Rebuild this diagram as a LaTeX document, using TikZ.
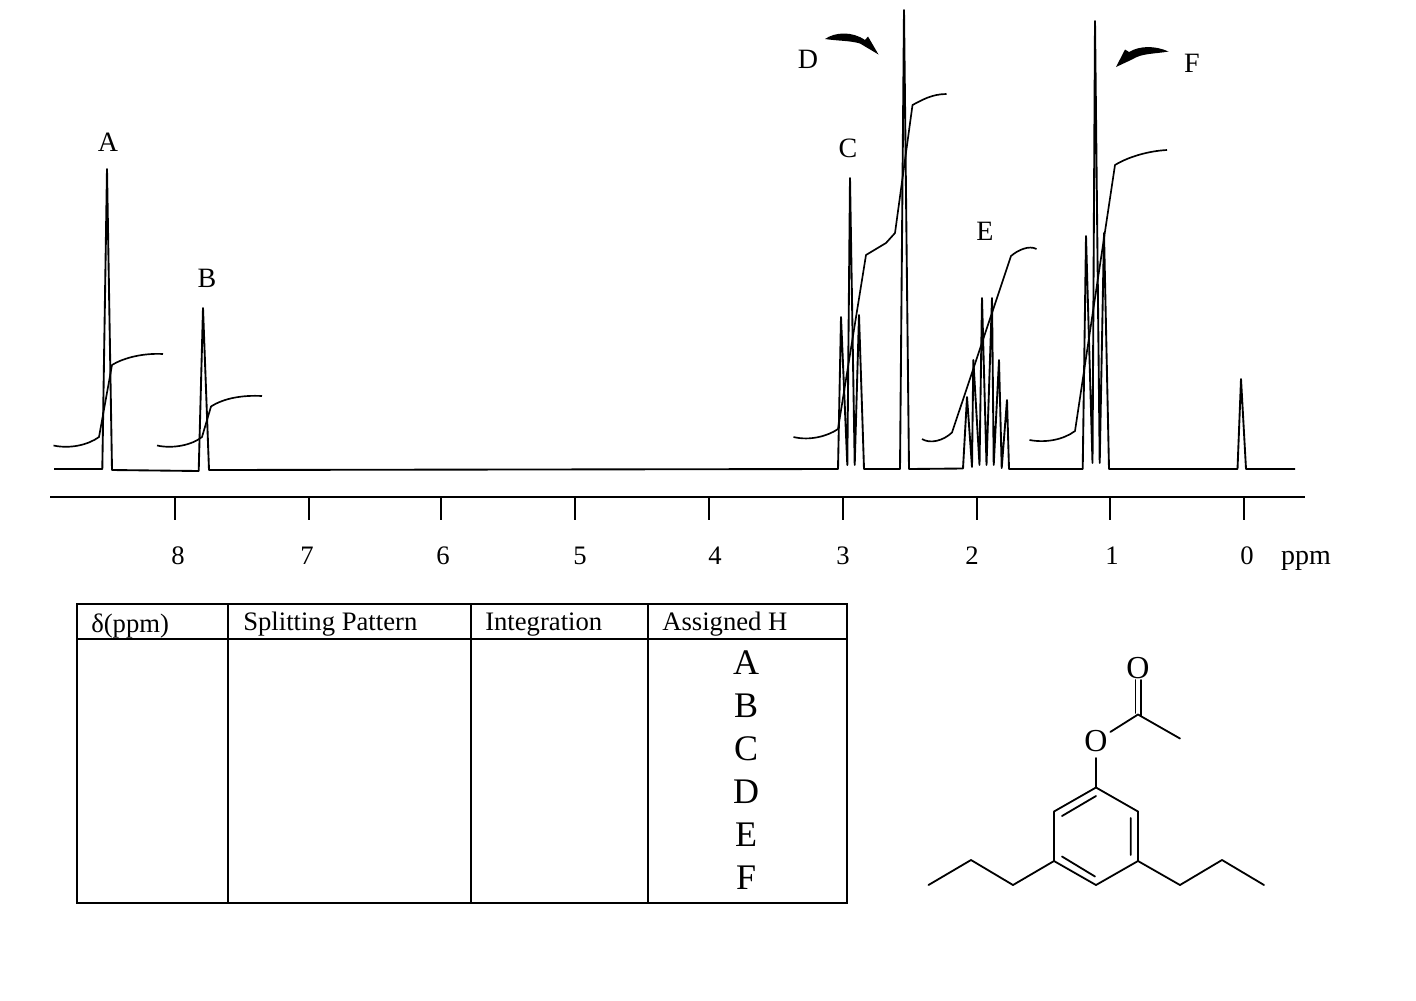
\documentclass[tikz,border=0pt]{standalone}
\usepackage{fontspec}
\setmainfont{Liberation Serif}
\tikzset{
  spec/.style={line width=1.4pt,line join=round,line cap=butt},
  integ/.style={line width=1.25pt,line join=round},
  axisline/.style={line width=1.3pt},
  grid line/.style={line width=1.5pt},
  bond/.style={line width=1.35pt,line cap=round,line join=round},
  peaklabel/.style={font=\fontsize{21}{24}\selectfont,inner sep=0pt},
  ticklabel/.style={font=\fontsize{20}{24}\selectfont,inner sep=0pt},
  ppmlabel/.style={font=\fontsize{21}{24}\selectfont,inner sep=0pt,anchor=base},
  headlabel/.style={font=\fontsize{20}{24}\selectfont,inner sep=0pt,anchor=base west},
  rowlabel/.style={font=\fontsize{27}{30}\selectfont,inner sep=0pt},
  atom/.style={font=\fontsize{24}{26}\selectfont,inner sep=0.5pt,circle},
}
\begin{document}
\begin{tikzpicture}[x=0.75pt,y=-0.75pt]
\useasboundingbox (0,0) rectangle (1416,1000);
\fill[white] (0,0) rectangle (1416,1000);
% spectrum
\draw[spec] (54,469) -- (102.3,469) -- (107,169) -- (112,470) -- (198.7,471) -- (203,308) -- (209,470)
  -- (838,469) -- (841,317) -- (847.3,465) -- (850,178) -- (854.7,465) -- (859,315) -- (864,469)
  -- (900,469) -- (904,10) -- (909,469) -- (963,468.5) -- (967,397) -- (972,467) -- (973.3,360)
  -- (979.5,465) -- (982,298) -- (986.5,465) -- (992,298) -- (993.7,465) -- (999,360) -- (1001.7,468)
  -- (1007,400) -- (1009,469) -- (1082.7,469) -- (1086,236) -- (1092.5,463) -- (1095,21) -- (1099.7,463)
  -- (1104,233) -- (1109,469) -- (1237.5,469) -- (1241,379) -- (1246,469) -- (1295,469);
% integrals
\draw[integ] (53.5,445.5) .. controls (70,449) and (88,445) .. (99,437) -- (112,365)
  .. controls (125,357) and (145,353) .. (163,354);
\draw[integ] (157,445.5) .. controls (173,449) and (192,445) .. (202,437) -- (211,406.5)
  .. controls (224,398) and (243,395) .. (262,396);
\draw[integ] (793.5,437) .. controls (810,441) and (828,436) .. (838,429) -- (866,255) -- (886,243) -- (895,233)
  -- (912.5,105) .. controls (922,100) and (932,94) .. (946.5,94);
\draw[integ] (922,439) .. controls (930,444) and (943,441) .. (952,432.5) -- (1011,256)
  .. controls (1018,250) and (1029,245) .. (1036.5,249);
\draw[integ] (1029.5,440) .. controls (1045,443) and (1063,440) .. (1075,431) -- (1115,165)
  .. controls (1128,157) and (1148,151) .. (1167,150);
% curved arrows
\fill (825,39) .. controls (835,32) and (852,31) .. (865,40) -- (868,36.5) -- (878.5,54.5) -- (860,43.5)
  .. controls (850,40.5) and (838,41) .. (825,39) -- cycle;
\fill (1168.5,51.5) .. controls (1155,45.5) and (1140,45.5) .. (1129,52) -- (1125,49.5) -- (1116,67) -- (1132,59.5)
  .. controls (1142,53) and (1155,54) .. (1168.5,51.5) -- cycle;
% peak labels
\node[peaklabel] (la) at (108,142) {A};
\node[peaklabel] (lb) at (207,278) {B};
\node[peaklabel] (lc) at (848,148) {C};
\node[peaklabel] (ld) at (808,59) {D};
\node[peaklabel] (le) at (985,231) {E};
\node[peaklabel] (lf) at (1192,63) {F};
% axis
\draw[axisline] (50,497) -- (1305,497);
\foreach \xt in {175,309,441,575,709,843,977,1110,1244}
  \draw[axisline] (\xt,497) -- (\xt,520);
\node[ticklabel] (t8) at (178,556) {8};
\node[ticklabel] (t7) at (307,556) {7};
\node[ticklabel] (t6) at (443,556) {6};
\node[ticklabel] (t5) at (580,556) {5};
\node[ticklabel] (t4) at (715,556) {4};
\node[ticklabel] (t3) at (843,556) {3};
\node[ticklabel] (t2) at (972,556) {2};
\node[ticklabel] (t1) at (1112,556) {1};
\node[ticklabel] (t0) at (1247,556) {0};
\node[ppmlabel] (tp) at (1306,564) {ppm};
% table
\draw[grid line] (77,604) rectangle (847,903);
\draw[grid line] (77,639) -- (847,639);
\draw[grid line] (228,604) -- (228,903);
\draw[grid line] (471,604) -- (471,903);
\draw[grid line] (648,604) -- (648,903);
\node[headlabel] (h1) at (91,632) {δ(ppm)};
\node[headlabel] (h2) at (243,630) {Splitting Pattern};
\node[headlabel] (h3) at (485,630) {Integration};
\node[headlabel] (h4) at (662,630) {Assigned H};
\node[rowlabel] (ra) at (746,663) {A};
\node[rowlabel] (rb) at (746,706) {B};
\node[rowlabel] (rc) at (746,749) {C};
\node[rowlabel] (rd) at (746,792) {D};
\node[rowlabel] (re) at (746,835) {E};
\node[rowlabel] (rf) at (746,878) {F};
% molecule
\coordinate (r1) at (1096,787.5);
\coordinate (r2) at (1138,811.5);
\coordinate (r3) at (1138,861);
\coordinate (r4) at (1096,885);
\coordinate (r5) at (1054,861);
\coordinate (r6) at (1054,811.5);
\coordinate (i1a) at (1062,816);
\coordinate (i1b) at (1096,796);
\coordinate (i2a) at (1130.7,818);
\coordinate (i2b) at (1130.7,855);
\coordinate (i3a) at (1062,856.5);
\coordinate (i3b) at (1095,876.5);
\coordinate (l1) at (1013,885);
\coordinate (l2) at (971,860);
\coordinate (l3) at (928.5,885);
\coordinate (p1) at (1180,885);
\coordinate (p2) at (1222,860);
\coordinate (p3) at (1264,885);
\coordinate (cc) at (1138,714.5);
\coordinate (me) at (1180,738.5);
\coordinate (d1a) at (1135.5,680);
\coordinate (d1b) at (1135.5,713);
\coordinate (d2a) at (1141,680);
\coordinate (d2b) at (1141,716);
\node[atom] (oe) at (1096,741) {O};
\node[atom] (oc) at (1138,668) {O};
\draw[bond] (r1) -- (r2) -- (r3) -- (r4) -- (r5) -- (r6) -- cycle;
\draw[bond] (i1a) -- (i1b) (i2a) -- (i2b) (i3a) -- (i3b);
\draw[bond] (r5) -- (l1) -- (l2) -- (l3);
\draw[bond] (r3) -- (p1) -- (p2) -- (p3);
\draw[bond] (oe) -- (r1);
\draw[bond] (oe) -- (cc) -- (me);
\draw[bond] (d1a) -- (d1b) (d2a) -- (d2b);
\end{tikzpicture}
\end{document}
